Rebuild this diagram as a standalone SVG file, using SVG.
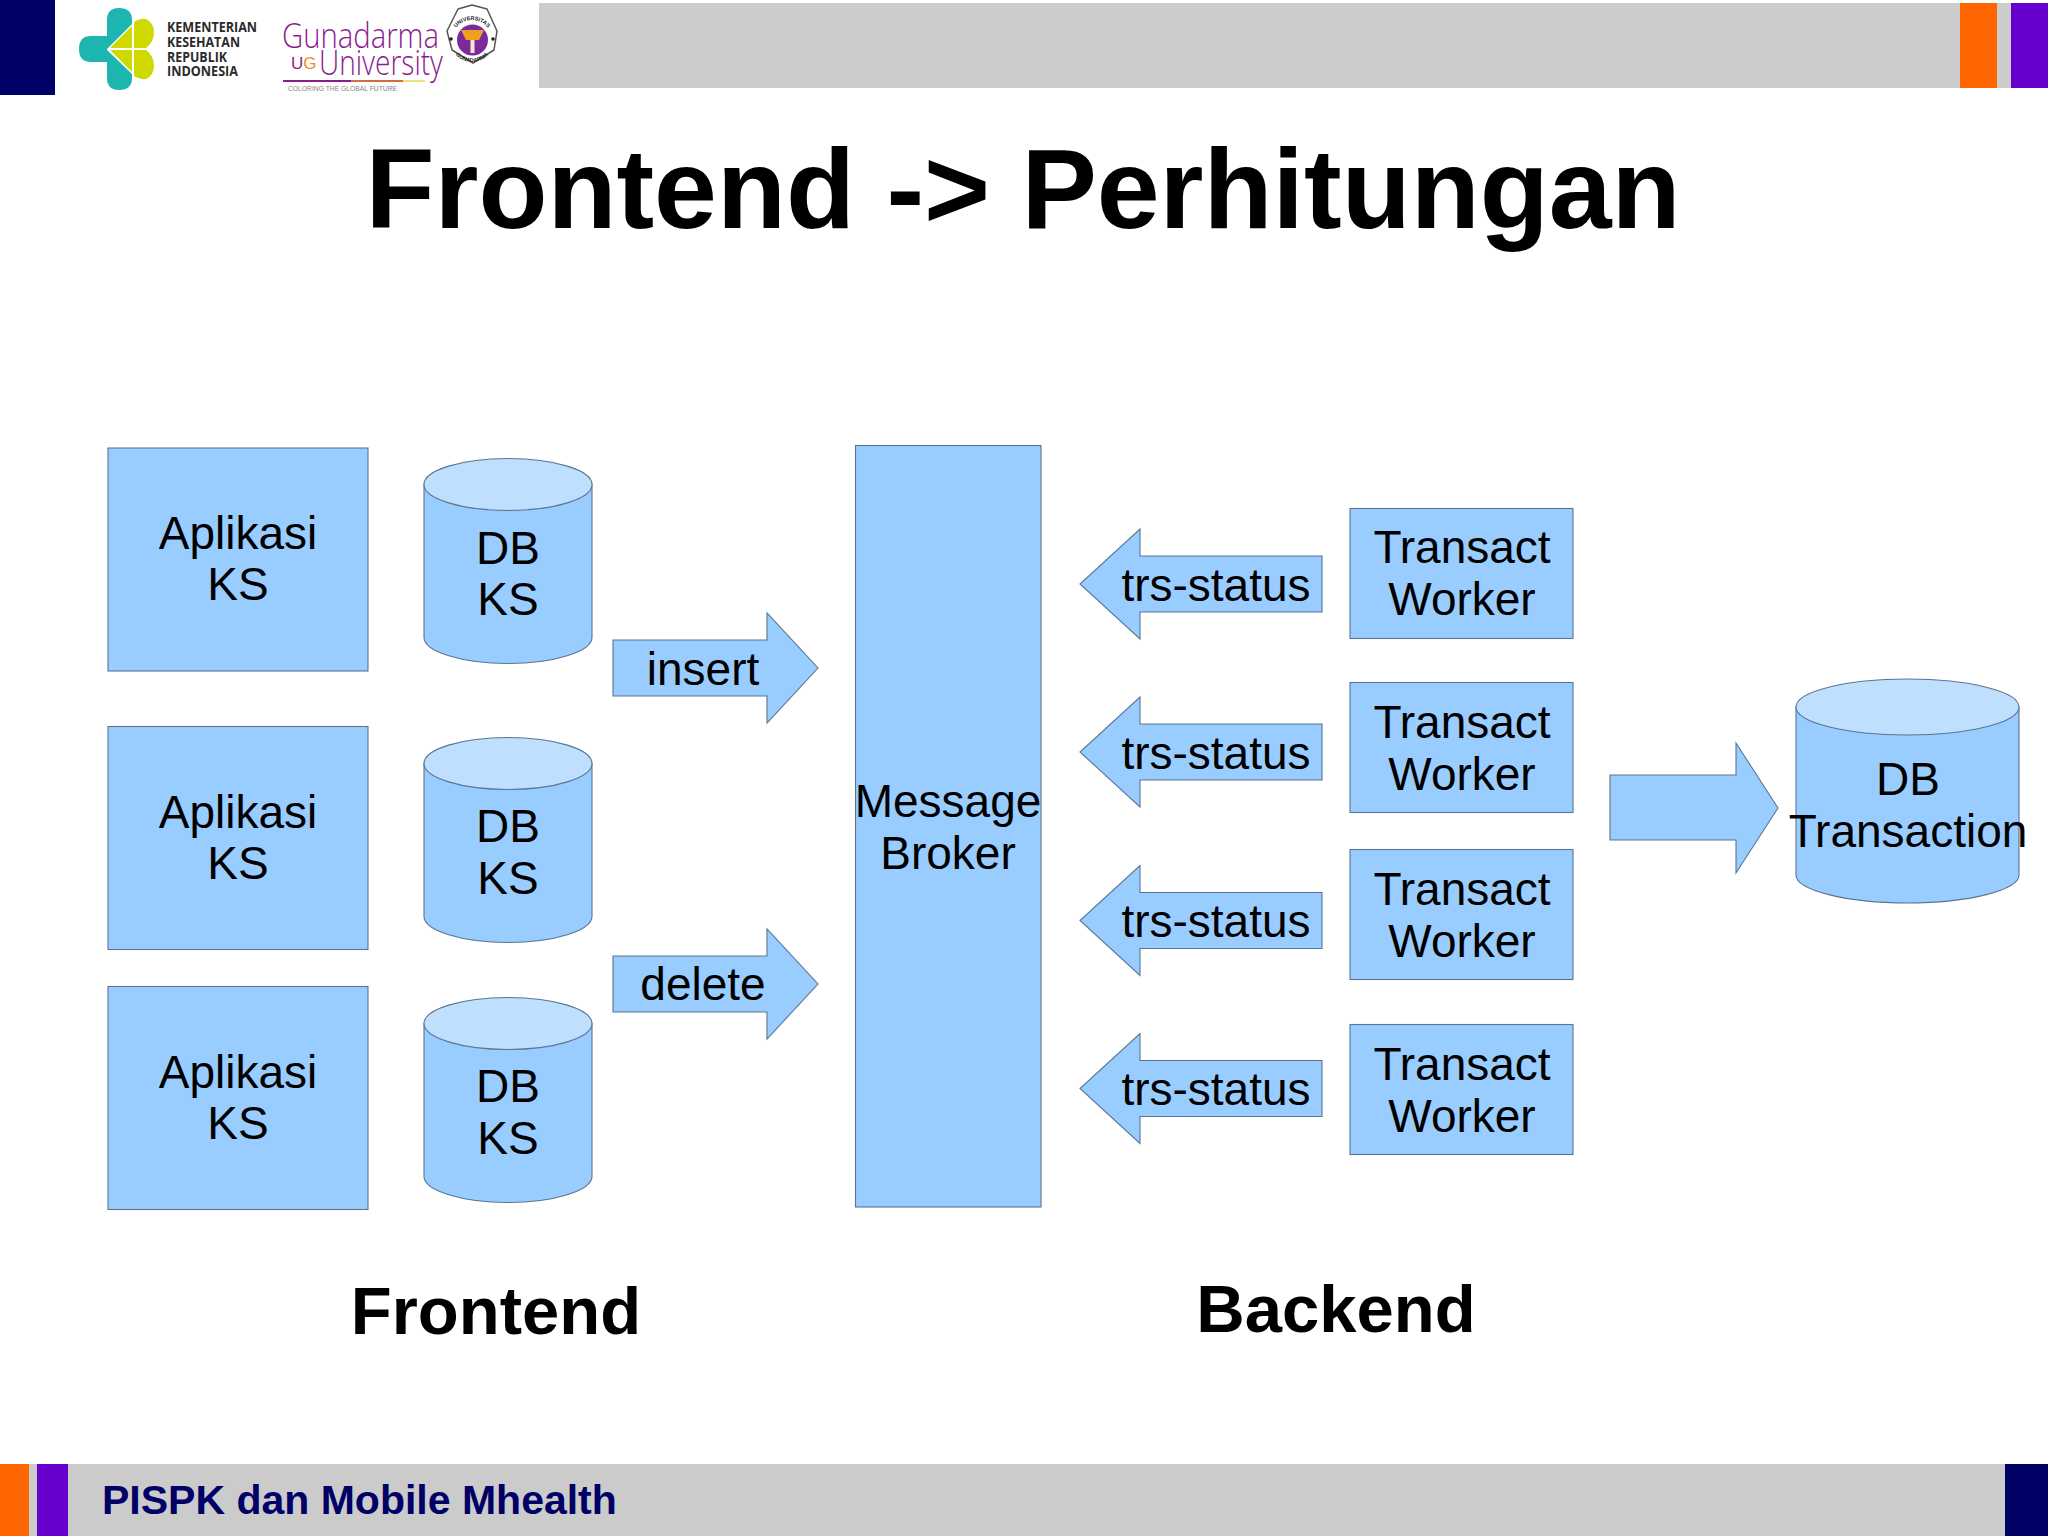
<svg xmlns="http://www.w3.org/2000/svg" width="2048" height="1536" viewBox="0 0 2048 1536">
<style>
.s{fill:#99ccff;stroke:#5a7692;stroke-width:1.1}
.top{fill:#bfdfff;stroke:#5a7692;stroke-width:1.1}
text{font-family:"Liberation Sans",Arial,sans-serif;fill:#000}
.l{font-size:46px;text-anchor:middle}
.h{font-size:67px;font-weight:bold;text-anchor:middle}
.teal{fill:#1db5b0}
.lime{fill:#cfd900}
.kk{font-family:"Open Sans","Liberation Sans",sans-serif;font-size:13.5px;font-weight:700;fill:#2a2a2a}
.ug{font-family:"Open Sans","Liberation Sans",sans-serif;font-size:34px;fill:#8b1c8e;font-weight:300}
</style>
<defs>
<path id="arR" class="s" d="M0 -28H154V-55L205 0L154 55V28H0Z"/>
<path id="arL" class="s" d="M242 -28H60V-55L0 0L60 55V28H242Z"/>
<g id="cyl">
<path class="s" d="M0 26V179C0 193 38 205 84 205C130 205 168 193 168 179V26Z"/>
<ellipse class="top" cx="84" cy="26" rx="84" ry="26"/>
</g>
<path id="sealTop" d="M452 40A20 20 0 0 1 492 40"/>
<path id="sealBot" d="M450 40A22 22 0 0 0 494 40"/>
</defs>
<rect width="2048" height="1536" fill="#fff"/>
<g id="header">
<rect x="0" y="0" width="55" height="95" fill="#000066"/>
<rect x="539" y="3" width="1421" height="85" fill="#cbcccb"/>
<rect x="1960" y="3" width="37" height="85" fill="#ff6600"/>
<rect x="1997" y="3" width="14" height="85" fill="#cbcccb"/>
<rect x="2011" y="3" width="37" height="85" fill="#6600cc"/>
</g>
<g id="logo-kemenkes">
<path class="teal" d="M107 49V20Q107 8 119 8Q132 8 132 20V24Z"/>
<path class="teal" d="M107 36H91Q79 36 79 49Q79 62 91 62H107Z"/>
<path class="teal" d="M107 50V78Q107 90 119 90Q132 90 132 78V74Z"/>
<path class="lime" d="M110 48L132 26V48Z"/>
<path class="lime" d="M110 50L132 72V50Z"/>
<path class="lime" d="M134 22Q140 18 146 19Q154 23 154 32Q154 42 146 48H134Z"/>
<path class="lime" d="M134 50H146Q154 56 154 66Q154 75 146 79Q140 80 134 76Z"/>
<text class="kk" x="167" y="32" textLength="90" lengthAdjust="spacingAndGlyphs">KEMENTERIAN</text>
<text class="kk" x="167" y="47" textLength="73" lengthAdjust="spacingAndGlyphs">KESEHATAN</text>
<text class="kk" x="167" y="62" textLength="60" lengthAdjust="spacingAndGlyphs">REPUBLIK</text>
<text class="kk" x="167" y="76" textLength="71" lengthAdjust="spacingAndGlyphs">INDONESIA</text>
</g>
<g id="logo-gunadarma">
<text class="ug" x="282" y="48" textLength="157" lengthAdjust="spacingAndGlyphs">Gunadarma</text>
<text class="ug" x="319" y="75" textLength="124" lengthAdjust="spacingAndGlyphs">University</text>
<text x="291" y="69" font-size="17" style="fill:#8b1c8e">U<tspan style="fill:#f08a24">G</tspan></text>
<rect x="283" y="80" width="68" height="2" fill="#8b1c8e"/>
<rect x="351" y="80" width="52" height="2" fill="#d0703a"/>
<rect x="403" y="80" width="22" height="2" fill="#ece27a"/>
<text x="288" y="91" font-size="7.500" style="fill:#8a7f8a" textLength="109" lengthAdjust="spacingAndGlyphs">COLORING THE GLOBAL FUTURE</text>
<path d="M472 5L487 9L497 31L494 50L473 63L452 50L447 31L458 9Z" fill="#fff" stroke="#555" stroke-width="1.500" stroke-linejoin="round"/>
<circle cx="472.500" cy="40" r="15.500" fill="#7b2a9c"/>
<path d="M461 30H484L479 40H466Z" fill="#f0a020"/>
<rect x="470.500" y="40" width="4" height="13" fill="#f6e9c8"/>
<circle cx="451" cy="39" r="1.800" fill="#222"/>
<circle cx="493" cy="39" r="1.800" fill="#222"/>
<text font-size="5.500" font-weight="bold" style="fill:#222"><textPath href="#sealTop" startOffset="50%" text-anchor="middle">UNIVERSITAS</textPath></text>
<text font-size="5.500" font-weight="bold" style="fill:#222"><textPath href="#sealBot" startOffset="50%" text-anchor="middle">GUNADARMA</textPath></text>
</g>
<text id="title" x="1023" y="228" font-size="113" font-weight="bold" text-anchor="middle">Frontend -&gt; Perhitungan</text>
<g id="connectors">
<use href="#arR" x="613" y="668"/>
<use href="#arR" x="613" y="984"/>
<use href="#arL" x="1080" y="584"/>
<use href="#arL" x="1080" y="752"/>
<use href="#arL" x="1080" y="920.500"/>
<use href="#arL" x="1080" y="1088.500"/>
<path class="s" d="M1610 775H1736V743L1778 808L1736 873V840H1610Z"/>
<text class="l" x="703" y="685">insert</text>
<text class="l" x="703" y="1000">delete</text>
<text class="l" x="1216" y="601">trs-status</text>
<text class="l" x="1216" y="769">trs-status</text>
<text class="l" x="1216" y="937">trs-status</text>
<text class="l" x="1216" y="1105">trs-status</text>
</g>
<g id="app1"><rect class="s" x="108" y="448" width="260" height="223"/><text class="l" x="238" y="549">Aplikasi</text><text class="l" x="238" y="600">KS</text></g>
<g id="app2"><rect class="s" x="108" y="726.500" width="260" height="223"/><text class="l" x="238" y="828">Aplikasi</text><text class="l" x="238" y="879">KS</text></g>
<g id="app3"><rect class="s" x="108" y="986.500" width="260" height="223"/><text class="l" x="238" y="1088">Aplikasi</text><text class="l" x="238" y="1139">KS</text></g>
<g id="db1"><use href="#cyl" x="424" y="458.500"/><text class="l" x="508" y="564">DB</text><text class="l" x="508" y="615">KS</text></g>
<g id="db2"><use href="#cyl" x="424" y="737.500"/><text class="l" x="508" y="842">DB</text><text class="l" x="508" y="894">KS</text></g>
<g id="db3"><use href="#cyl" x="424" y="997.500"/><text class="l" x="508" y="1102">DB</text><text class="l" x="508" y="1154">KS</text></g>
<g id="broker"><rect class="s" x="855.500" y="445.500" width="185.500" height="761.500"/><text class="l" x="948" y="817">Message</text><text class="l" x="948" y="869">Broker</text></g>
<g id="worker1"><rect class="s" x="1350" y="508.500" width="223" height="130"/><text class="l" x="1462" y="563">Transact</text><text class="l" x="1462" y="615">Worker</text></g>
<g id="worker2"><rect class="s" x="1350" y="682.500" width="223" height="130"/><text class="l" x="1462" y="738">Transact</text><text class="l" x="1462" y="790">Worker</text></g>
<g id="worker3"><rect class="s" x="1350" y="849.500" width="223" height="130"/><text class="l" x="1462" y="905">Transact</text><text class="l" x="1462" y="957">Worker</text></g>
<g id="worker4"><rect class="s" x="1350" y="1024.500" width="223" height="130"/><text class="l" x="1462" y="1080">Transact</text><text class="l" x="1462" y="1132">Worker</text></g>
<g id="dbtransaction">
<path class="s" d="M1796 707V875C1796 890 1846 903 1907.500 903C1969 903 2019 890 2019 875V707Z"/>
<ellipse class="top" cx="1907.500" cy="707" rx="111.500" ry="28"/>
<text class="l" x="1908" y="795">DB</text><text class="l" x="1908" y="847">Transaction</text>
</g>
<text class="h" x="496" y="1334">Frontend</text>
<text class="h" x="1336" y="1332">Backend</text>
<g id="footer">
<rect x="0" y="1464" width="2048" height="72" fill="#cbcbcb"/>
<rect x="0" y="1464" width="29" height="72" fill="#ff6600"/>
<rect x="37" y="1464" width="31" height="72" fill="#6600cc"/>
<rect x="2005" y="1464" width="43" height="72" fill="#000066"/>
<text x="102" y="1514" font-size="41" font-weight="bold" style="fill:#000066">PISPK dan Mobile Mhealth</text>
</g>
</svg>
